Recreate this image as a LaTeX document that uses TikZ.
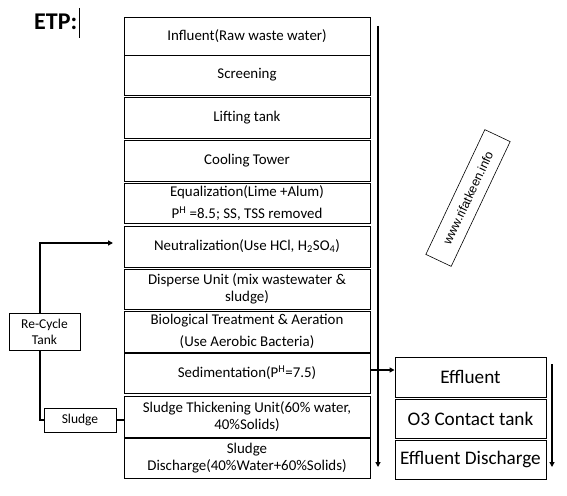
\documentclass[tikz,border=0pt]{standalone}
\usepackage{fontspec}
\setmainfont{Carlito}
\newfontfamily\arialfont{Liberation Sans}
\usetikzlibrary{arrows.meta}
\begin{document}
\begin{tikzpicture}[x=1pt,y=-1pt,
  mbox/.style={draw,line width=0.9pt,minimum width=246pt,inner sep=0pt,align=center,font=\fontsize{14.9}{17}\selectfont},
  rbox/.style={draw,line width=0.9pt,minimum width=151pt,inner sep=0pt,align=center,font=\fontsize{19.2}{22}\selectfont},
  sbox/.style={draw,line width=0.9pt,inner sep=0pt,align=center,font=\fontsize{13.5}{16}\selectfont},
  conn/.style={line width=1.6pt},
  arr/.style={line width=1.6pt,-{Triangle[length=5pt,width=5pt]}}]
\useasboundingbox (0,0) rectangle (567,495);
\node[font=\fontsize{24}{26}\selectfont\bfseries,anchor=west,inner sep=0pt] (etp) at (34,22) {ETP:};
\coordinate (cu1) at (79,8);
\coordinate (cu2) at (79,38);
\draw[line width=0.7pt] (cu1) -- (cu2);
% main column
\node[mbox,minimum height=38pt] (b1) at (247,36) {Influent(Raw waste water)};
\node[mbox,minimum height=40pt] (b2) at (247,75) {Screening};
\node[mbox,minimum height=41pt] (b3) at (247,117.5) {Lifting tank};
\node[mbox,minimum height=41pt] (b4) at (247,160.5) {Cooling Tower};
\node[mbox,minimum height=40pt] (b5) at (247,203) {Equalization(Lime +Alum)\\[5pt]P\textsuperscript{H} =8.5; SS, TSS removed};
\node[mbox,minimum height=41pt] (b6) at (247,246.5) {\raisebox{3pt}{Neutralization(Use HCl, H\textsubscript{2}SO\textsubscript{4})}};
\node[mbox,minimum height=40pt] (b7) at (247,289) {Disperse Unit (mix wastewater \&\\sludge)};
\node[mbox,minimum height=41pt] (b8) at (247,331.5) {Biological Treatment \& Aeration\\[5pt](Use Aerobic Bacteria)};
\node[mbox,minimum height=40pt] (b9) at (247,373) {Sedimentation(P\textsuperscript{H}=7.5)};
\node[mbox,minimum height=41pt] (b10) at (247,416.5) {Sludge Thickening Unit(60\% water,\\40\%Solids)};
\node[mbox,minimum height=40pt] (b11) at (247,458) {Sludge\\Discharge(40\%Water+60\%Solids)};
% right column
\node[rbox,minimum height=40pt] (e1) at (470.5,377) {Effluent};
\node[rbox,minimum height=39pt] (e2) at (470.5,418.5) {O3 Contact tank};
\node[rbox,minimum height=39pt] (e3) at (470.5,459.5) {Effluent Discharge};
% left
\node[sbox,minimum width=71pt,minimum height=37pt] (rc) at (44.5,331.5) {Re-Cycle\\Tank};
\node[sbox,minimum width=72pt,minimum height=24pt] (sl) at (80,420) {Sludge};
% watermark
\node[draw,line width=0.6pt,rotate=64.7,minimum width=138pt,minimum height=28pt,inner sep=0pt,font=\arialfont\fontsize{12.5}{15}\selectfont] (wm) at (468,198) {www.rifatkeen.info};
% arrows
\coordinate (mt) at (378,26);
\coordinate (mb) at (378,467);
\draw[arr] (mt) -- (mb);
\coordinate (rt) at (552,364);
\coordinate (rb) at (552,467);
\draw[arr] (rt) -- (rb);
\draw[arr] ([yshift=3pt]b9.east) -- ([yshift=3pt]b9.east -| e1.west);
\coordinate (nt) at (113,243);
\draw[arr] (rc.north -| 40,0) |- (nt);
\draw[conn] (rc.south -| 40,0) |- (sl.west);
\draw[conn] (sl.east) -- (b10.west |- sl.east);
\end{tikzpicture}
\end{document}
